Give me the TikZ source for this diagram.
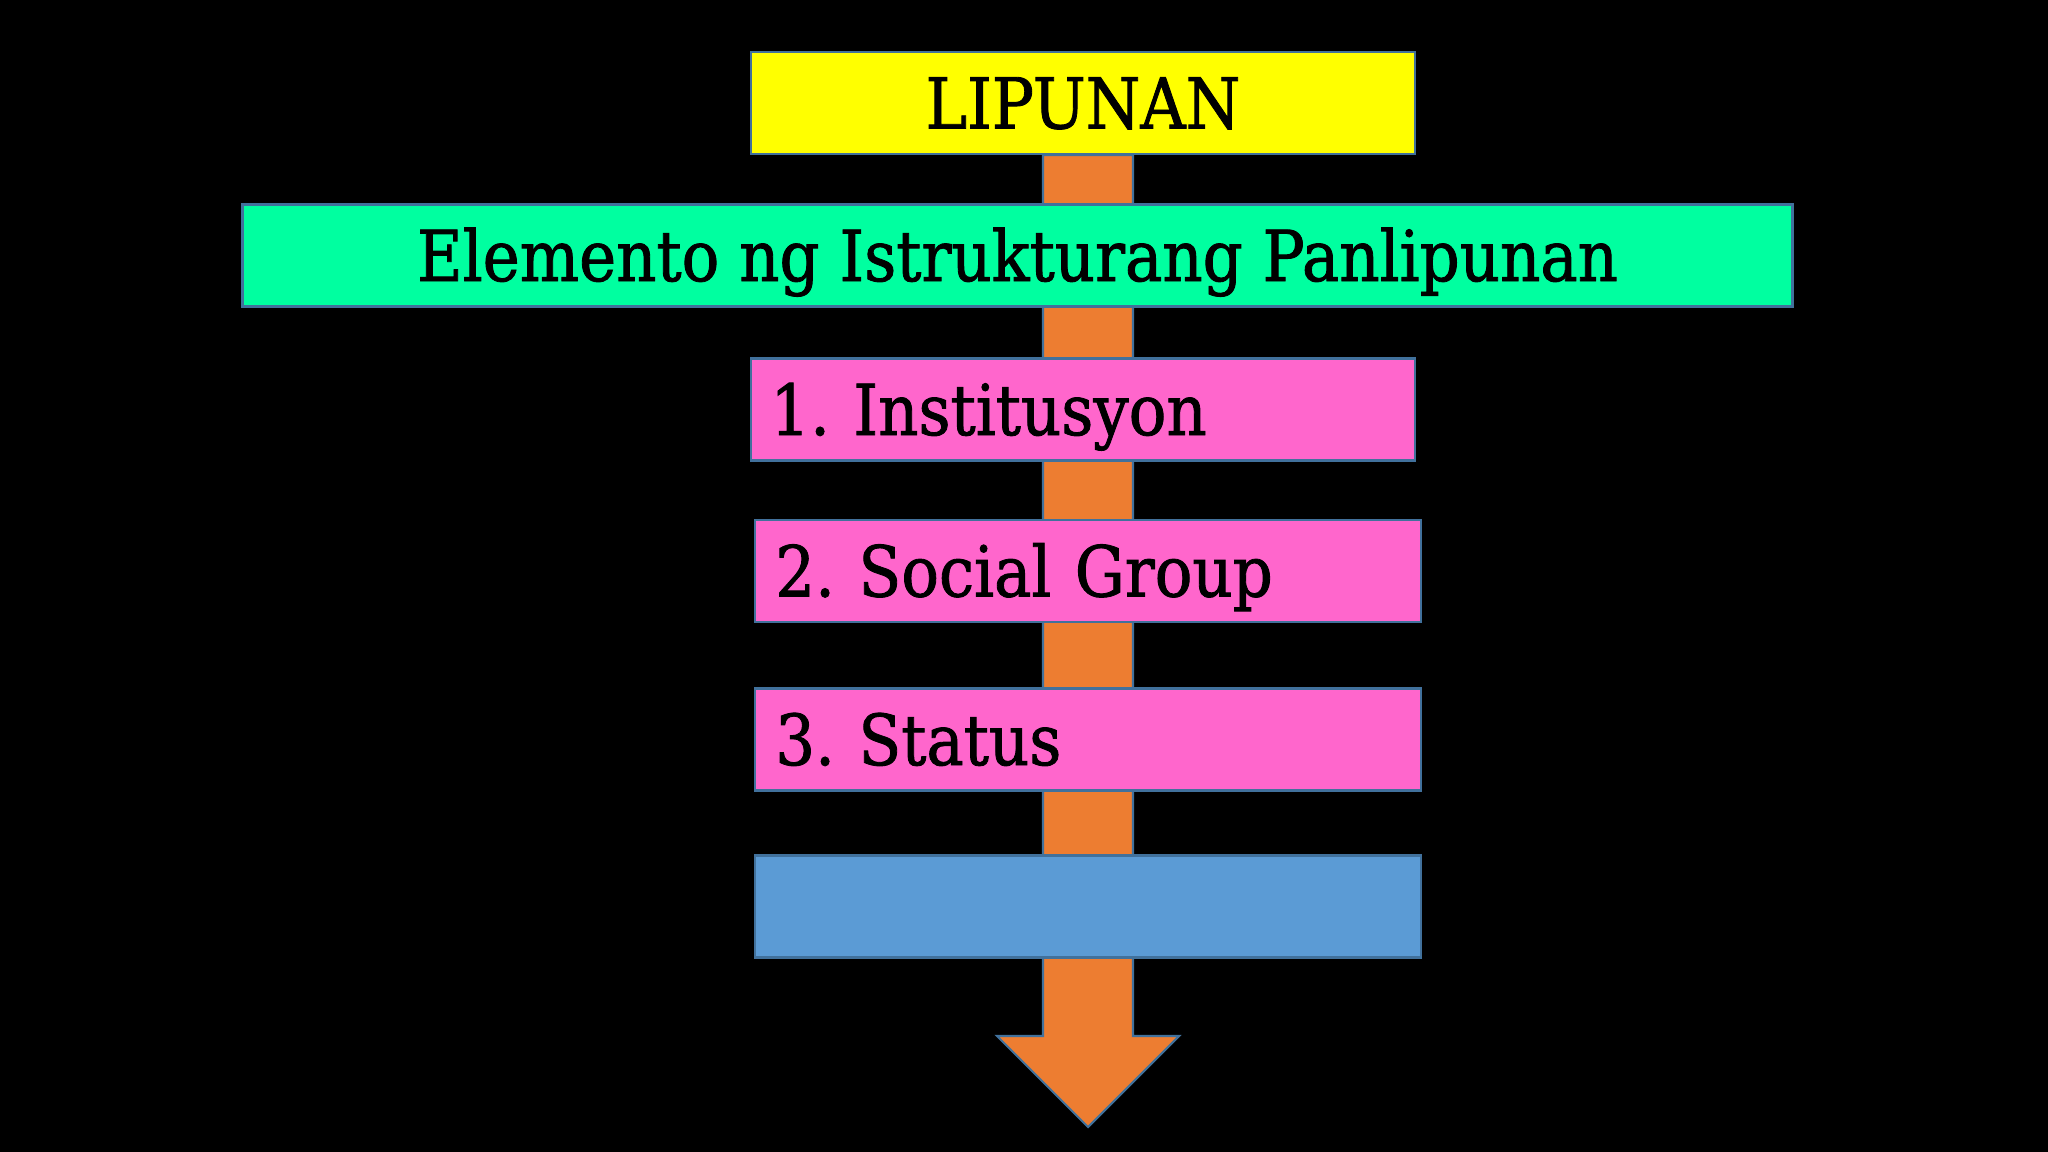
\documentclass[tikz,border=0pt]{standalone}
\usepackage{fontspec}
\setmainfont[FakeStretch=0.89,FakeBold=1.2]{DejaVu Serif}
\usetikzlibrary{calc,backgrounds}

\definecolor{lipyellow}{HTML}{FFFF00}
\definecolor{elemgreen}{HTML}{00FFA0}
\definecolor{itempink}{HTML}{FF66CC}
\definecolor{blankblue}{HTML}{5B9BD5}
\definecolor{stemorange}{HTML}{ED7D31}
\definecolor{boxline}{HTML}{41719C}

\tikzset{
  box/.style={rectangle, draw=boxline, line width=0.6pt, minimum height=1.02cm,
    text=black, font=\fontsize{20}{24}\selectfont\frenchspacing,
    text height=0.51cm, text depth=0cm},
  item/.style={box, fill=itempink, text width=6.25cm, inner xsep=0.19cm, align=left},
}

\begin{document}
\begin{tikzpicture}[x=0.01cm,y=-0.01cm]

  \useasboundingbox (0,0) rectangle (2048,1152);

  % boxes, top to bottom
  \node[box, fill=lipyellow, minimum width=6.64cm] (lip) at (1083,103) {LIPUNAN};
  \node[box, fill=elemgreen, minimum width=15.49cm] (elem) at (1017.5,255.5)
       {Elemento ng Istrukturang Panlipunan};
  \node[item] (inst) at (1083,409.5) {1. Institusyon};
  \node[item, minimum width=6.65cm] (soc)  at (1088,571) {2. Social Group};
  \node[item, minimum width=6.65cm] (stat) at (1088,739.5) {3. Status};
  \node[box, fill=blankblue, minimum width=6.65cm] (blank) at (1088,906.5) {};

  % tip of the big arrow
  \coordinate (tip) at (1088,1127);

  \begin{pgfonlayer}{background}
    \fill[black] (0,0) rectangle (2048,1152);

    % orange stem behind the boxes
    \filldraw[fill=stemorange, draw=boxline, line width=0.6pt]
      ($(tip |- lip.south)+(-45,0)$) -- ($(tip)+(-45,-91)$) -- ($(tip)+(-91,-91)$)
      -- (tip) -- ($(tip)+(91,-91)$) -- ($(tip)+(45,-91)$)
      -- ($(tip |- lip.south)+(45,0)$) -- cycle;
  \end{pgfonlayer}

\end{tikzpicture}
\end{document}
